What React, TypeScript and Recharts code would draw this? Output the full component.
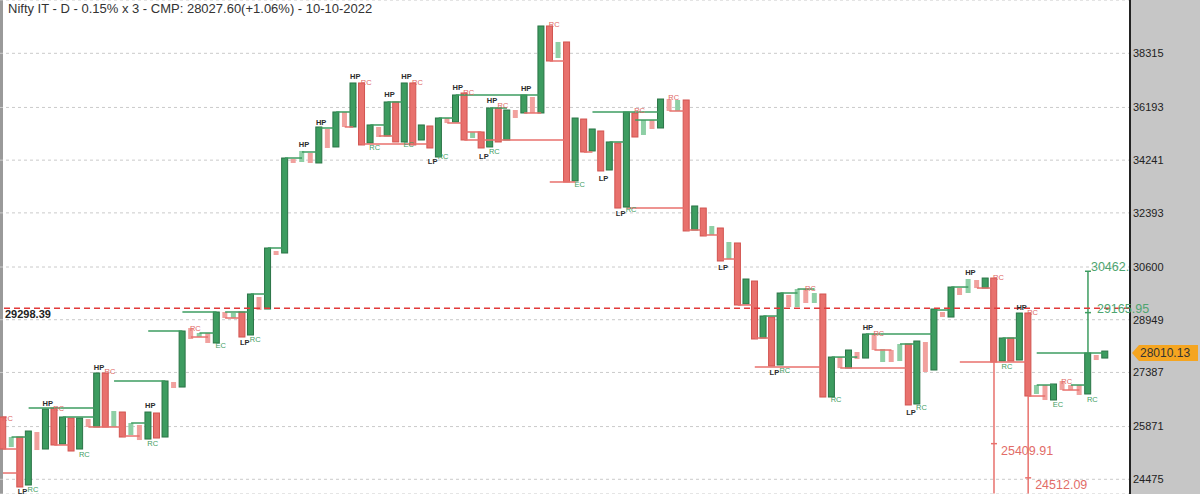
import React from 'react'
import {
  ComposedChart,
  Bar,
  XAxis,
  YAxis,
  CartesianGrid,
  ReferenceLine,
  Scatter
} from 'recharts'

const title = 'Nifty IT - D - 0.15% x 3 - CMP: 28027.60(+1.06%) - 10-10-2022'
const priceTicks = [24475, 25871, 27387, 28949, 30600, 32393, 34241, 36193, 38315]
const breakLevel = 29298.39
const cmpLevel = 28010.13

// G = up bar, R = down bar, g / r = minor up / down bar
const barKind = [
  'R', 'g', 'R', 'G', 'r', 'G', 'R', 'G', 'R', 'G',
  'r', 'G', 'R', 'g', 'R', 'g', 'r', 'G', 'R', 'G',
  'r', 'G', 'r', 'g', 'r', 'G', 'r', 'g', 'R', 'G',
  'r', 'G', 'r', 'G', 'r', 'g', 'r', 'G', 'r', 'G',
  'r', 'G', 'R', 'G', 'r', 'G', 'R', 'G', 'R', 'G',
  'R', 'G', 'r', 'G', 'R', 'g', 'R', 'G', 'R', 'G',
  'r', 'G', 'r', 'G', 'R', 'g', 'R', 'G', 'R', 'G',
  'R', 'G', 'R', 'G', 'R', 'g', 'r', 'G', 'r', 'g',
  'R', 'G', 'R', 'g', 'R', 'g', 'R', 'G', 'R', 'G',
  'R', 'G', 'r', 'g', 'r', 'g', 'R', 'G', 'r', 'G',
  'r', 'G', 'r', 'g', 'r', 'g', 'R', 'G', 'r', 'G',
  'r', 'G', 'r', 'g', 'r', 'G', 'R', 'G', 'R', 'G',
  'R', 'g', 'r', 'G', 'r', 'r', 'r', 'G', 'r', 'G'
]

const barHigh = [
  26132, 25588, 25588, 25750, 25723, 26353, 26381, 26132, 26105, 26105,
  26077, 27371, 27371, 26298, 26270, 25968, 25914, 26270, 26243, 27142,
  27113, 28607, 28697, 28547, 28547, 29185, 29185, 29154, 29185, 29743,
  29649, 31218, 31119, 34318, 34282, 34573, 34500, 35457, 35382, 36021,
  36021, 37137, 37137, 35532, 35457, 36402, 36402, 37137, 37137, 35532,
  35494, 35793, 35793, 36671, 36748, 35271, 35271, 36172, 36172, 36096,
  36096, 36671, 36593, 39432, 39432, 38774, 38774, 35793, 35755, 35382,
  35308, 34902, 34865, 36021, 35983, 35718, 35718, 36516, 36516, 36478,
  36478, 32629, 32559, 31948, 31882, 31416, 31383, 30216, 30152, 29062,
  29031, 29774, 29712, 29899, 29899, 29774, 29743, 27834, 27834, 28041,
  27982, 28517, 28517, 28071, 28041, 28219, 28219, 28308, 28278, 29277,
  29185, 29962, 29930, 30216, 30184, 30247, 30247, 28397, 28397, 29154,
  29154, 27027, 27027, 27056, 27142, 27027, 27027, 27953, 27894, 28010
]

const barLow = [
  25267, 25320, 24277, 24328, 25240, 25267, 25374, 25400, 25214, 25267,
  25859, 25859, 25859, 25859, 25588, 25642, 25507, 25534, 25561, 25588,
  26942, 26970, 28368, 28427, 28249, 28249, 29001, 29001, 28427, 28487,
  29246, 29277, 30989, 31054, 34139, 34174, 34139, 34139, 34682, 34719,
  35457, 35457, 34792, 34865, 35085, 35123, 34902, 34902, 34792, 34975,
  34682, 34355, 35606, 35643, 34975, 35048, 34682, 34719, 34902, 34975,
  35793, 35983, 35983, 35983, 38006, 38126, 33463, 33498, 34536, 34573,
  33853, 33888, 32559, 32593, 35085, 35160, 35382, 35419, 36058, 36058,
  31782, 31815, 31615, 31648, 30794, 30858, 29401, 29432, 28368, 28397,
  27573, 27602, 29338, 29338, 29463, 29463, 26688, 26688, 27514, 27514,
  27776, 27805, 28041, 27689, 27689, 27718, 26465, 26492, 27400, 27457,
  29031, 29031, 29712, 29774, 29930, 29930, 27689, 27718, 27718, 27747,
  26716, 26773, 26604, 26604, 26885, 26885, 26745, 26773, 27747, 27805
]

// [tone, from bar, to bar, price]
const levelLines: [string, number, number, number][] = [
  ['r', 0, 2, 25267], ['r', 0, 2, 24637], ['g', 1, 3, 25588], ['g', 3, 11, 26381],
  ['g', 7, 11, 26132], ['r', 6, 8, 25374], ['r', 10, 14, 25859], ['r', 14, 16, 25615],
  ['g', 15, 17, 25968], ['g', 13, 19, 27142], ['g', 17, 21, 28607], ['r', 22, 24, 28427],
  ['g', 23, 25, 28547], ['g', 21, 25, 29185], ['r', 26, 28, 29001], ['g', 26, 29, 29185],
  ['g', 29, 31, 29743], ['g', 31, 33, 31218], ['g', 33, 35, 34318], ['g', 35, 37, 34536],
  ['g', 37, 39, 35419], ['g', 39, 41, 36021], ['r', 40, 41, 35457], ['r', 42, 50, 34830],
  ['g', 43, 45, 35532], ['r', 44, 46, 35123], ['g', 45, 47, 36402], ['g', 51, 53, 35793],
  ['r', 52, 54, 35606], ['g', 53, 63, 36671], ['r', 54, 66, 34975], ['r', 54, 56, 35271],
  ['g', 57, 59, 36172], ['r', 61, 63, 35983], ['r', 64, 66, 38006], ['r', 64, 67, 33463],
  ['r', 68, 69, 34536], ['g', 71, 73, 34902], ['g', 69, 77, 36021], ['g', 74, 77, 35718],
  ['r', 73, 80, 32559], ['r', 78, 80, 36058], ['r', 80, 82, 31815], ['r', 82, 84, 31648],
  ['r', 84, 86, 30858], ['r', 86, 88, 29401], ['r', 88, 90, 28397], ['g', 89, 91, 29062],
  ['g', 91, 93, 29774], ['r', 88, 96, 27545], ['g', 93, 95, 29899], ['g', 97, 100, 27834],
  ['r', 98, 106, 27514], ['g', 101, 109, 28517], ['r', 102, 104, 28041], ['g', 105, 107, 28219],
  ['g', 109, 111, 29246], ['g', 111, 113, 29962], ['r', 114, 116, 29930], ['r', 112, 120, 27689],
  ['g', 117, 119, 28397], ['r', 120, 122, 26716], ['g', 121, 123, 27027], ['r', 124, 126, 26885],
  ['g', 125, 127, 27027], ['g', 121, 129, 27953]
]

// [bar, price, text, tone]
const marks: [number, number, string, string][] = [
  [0, 26105, 'RC', 'r'], [2, 24174, 'LP', 'k'], [3, 24226, 'RC', 'g'], [5, 26520, 'HP', 'k'],
  [6, 26381, 'RC', 'r'], [9, 25134, 'RC', 'g'], [11, 27543, 'HP', 'k'], [12, 27400, 'RC', 'r'],
  [17, 26437, 'HP', 'k'], [17, 25427, 'RC', 'g'], [22, 28697, 'RC', 'r'], [25, 28160, 'EC', 'g'],
  [28, 28249, 'LP', 'k'], [29, 28338, 'RC', 'g'], [35, 34792, 'HP', 'k'], [37, 35643, 'HP', 'k'],
  [41, 37372, 'HP', 'k'], [42, 37137, 'RC', 'r'], [43, 34682, 'RC', 'g'], [45, 36671, 'HP', 'k'],
  [47, 37372, 'HP', 'k'], [47, 34792, 'EC', 'g'], [48, 37137, 'RC', 'r'], [50, 34210, 'LP', 'k'],
  [51, 34355, 'RC', 'g'], [53, 36942, 'HP', 'k'], [54, 36748, 'RC', 'r'], [56, 34355, 'LP', 'k'],
  [57, 36440, 'HP', 'k'], [57, 34536, 'RC', 'g'], [58, 36249, 'RC', 'r'], [61, 36903, 'HP', 'k'],
  [64, 39474, 'RC', 'r'], [67, 33358, 'EC', 'g'], [70, 33603, 'LP', 'k'], [72, 32355, 'LP', 'k'],
  [73, 32525, 'RC', 'g'], [74, 36096, 'RC', 'r'], [78, 36555, 'RC', 'r'], [84, 30568, 'LP', 'k'],
  [90, 27371, 'LP', 'k'], [91, 27457, 'RC', 'g'], [94, 29930, 'RC', 'r'], [97, 26632, 'RC', 'g'],
  [101, 28727, 'HP', 'k'], [102, 28547, 'RC', 'r'], [106, 26270, 'LP', 'k'], [107, 26409, 'RC', 'g'],
  [113, 30408, 'HP', 'k'], [116, 30279, 'RC', 'r'], [117, 27573, 'RC', 'g'], [119, 29338, 'HP', 'k'],
  [120, 29185, 'RC', 'r'], [123, 26492, 'EC', 'g'], [124, 27113, 'RC', 'r'], [127, 26632, 'RC', 'g']
]

// [bar, from price, to price, tone]
const wicks: [number, number, number, string][] = [
  [116, 27689, 24110, 'r'],
  [120, 26716, 24110, 'r'],
  [127, 27953, 30462.76, 'g']
]

// [bar, price, tone]
const wickTicks: [number, number, string][] = [
  [116, 25409.91, 'r'],
  [120, 24512.09, 'r'],
  [127, 30462.76, 'g'],
  [127, 29165.95, 'g']
]

const FONT = '"Liberation Sans", Arial, sans-serif'
const GREEN = '#3d9c60'
const GREEN_EDGE = '#2a7446'
const RED = '#e8716d'
const RED_EDGE = '#d25450'
const PALE_GREEN = '#8ecfa5'
const PALE_RED = '#f1a19e'

const chartData = barKind.map((kind, i) => ({
  i,
  kind,
  range: [barLow[i], barHigh[i]]
}))

const markData = marks.map(([i, v, text, tone]) => ({ i, v, text, tone }))
const tickData = wickTicks.map(([i, v, tone]) => ({
  i,
  v,
  tone,
  text: v.toFixed(2)
}))

const BarShape = (props: any) => {
  const { x, y, width, height, payload } = props
  if (!payload) return null
  const k = payload.kind
  const minor = k === 'g' || k === 'r'
  const w = minor ? 5 : 6
  const cx = x + width / 2
  let fill = GREEN
  let stroke = GREEN_EDGE
  if (k === 'R') { fill = RED; stroke = RED_EDGE }
  if (k === 'g') { fill = PALE_GREEN; stroke = 'none' }
  if (k === 'r') { fill = PALE_RED; stroke = 'none' }
  return (
    <rect
      x={cx - w / 2}
      y={y}
      width={w}
      height={Math.max(height, 1.5)}
      fill={fill}
      stroke={stroke}
      strokeWidth={minor ? 0 : 1}
    />
  )
}

const MarkShape = (props: any) => {
  const { cx, cy, payload } = props
  if (!payload) return null
  const t = payload.text
  let x = cx - 1
  let anchor: 'start' | 'middle' = 'start'
  let fill = payload.tone === 'g' ? '#3f9d62' : '#e06763'
  let weight: any = 'normal'
  if (t === 'HP') { x = cx + 2; anchor = 'middle'; fill = '#2b2b2b'; weight = 'bold' }
  if (t === 'LP') { x = cx + 2.5; anchor = 'middle'; fill = '#2b2b2b'; weight = 'bold' }
  return (
    <text
      x={x}
      y={cy}
      textAnchor={anchor}
      dominantBaseline="central"
      fontSize={7.5}
      fontWeight={weight}
      fontFamily={FONT}
      fill={fill}
    >
      {t}
    </text>
  )
}

// the top target text is cut at the edge of the plot, the others run on
const TickText = (props: any) => {
  const { cx, cy, payload } = props
  if (!payload) return null
  const up = payload.tone === 'g'
  const top = up && payload.v > 30000
  return (
    <g>
      {top && (
        <defs>
          <clipPath id="plot-edge">
            <rect x={0} y={0} width={1129} height={494} />
          </clipPath>
        </defs>
      )}
      <text
        x={cx + (up ? (top ? 3 : 9) : 7)}
        y={cy + (up ? -4 : 7)}
        dominantBaseline="central"
        fontSize={12.5}
        fontFamily={FONT}
        fill={up ? '#4ea570' : '#e26c68'}
        clipPath={top ? 'url(#plot-edge)' : undefined}
      >
        {payload.text}
      </text>
    </g>
  )
}

const BreakLabel = ({ viewBox }: any) => (
  <text
    x={viewBox.x + 5}
    y={viewBox.y + 9.5}
    fontSize={11}
    fontWeight="bold"
    fontFamily={FONT}
    fill="#222"
  >
    {breakLevel.toFixed(2)}
  </text>
)

const CmpTag = ({ viewBox }: any) => {
  const x = viewBox.x + viewBox.width + 2
  const y = viewBox.y + 2
  return (
    <g>
      <path
        d={`M${x} ${y} L${x + 7} ${y - 8} H${x + 66} V${y + 8} H${x + 7} Z`}
        fill="#f5a520"
      />
      <text
        x={x + 8}
        y={y}
        dominantBaseline="central"
        fontSize={12}
        fontFamily={FONT}
        fill="#333"
      >
        {cmpLevel.toFixed(2)}
      </text>
    </g>
  )
}

export default function App() {
  return (
    <div
      style={{
        position: 'absolute',
        left: 0,
        top: 0,
        width: 1200,
        height: 494,
        background: '#c6c6c6',
        overflow: 'hidden',
        fontFamily: FONT
      }}
    >
      <div style={{ position: 'absolute', left: 0, top: 0, width: 1130, height: 494, background: '#fff' }} />
      <div style={{ position: 'absolute', left: 0, top: 0, width: 3, height: 494, background: '#9a9a9a' }} />
      <div style={{ position: 'absolute', left: 0, top: 0 }}>
        <ComposedChart
          width={1200}
          height={494}
          data={chartData}
          margin={{ top: 0, right: 0, bottom: 0, left: 0 }}
        >
          <CartesianGrid vertical={false} strokeDasharray="3 3" stroke="#cacaca" />
          <XAxis
            dataKey="i"
            type="number"
            domain={[-0.35, 131.92]}
            hide
          />
          <YAxis
            orientation="right"
            scale="log"
            domain={[24099, 40525]}
            ticks={priceTicks}
            width={70}
            tickSize={0}
            tickMargin={3}
            tickLine={false}
            axisLine={{ stroke: '#222', strokeWidth: 2 }}
            tick={{ fontSize: 11, fill: '#222', fontFamily: FONT }}
            interval={0}
          />
          {levelLines.map(([tone, a, b, v], k) => (
            <ReferenceLine
              key={`lv-${k}`}
              segment={[{ x: a, y: v }, { x: b, y: v }]}
              stroke={tone === 'g' ? GREEN : RED}
              strokeWidth={1.5}
            />
          ))}
          {wicks.map(([i, from, to, tone], k) => (
            <ReferenceLine
              key={`wk-${k}`}
              segment={[{ x: i, y: from }, { x: i, y: to }]}
              stroke={tone === 'g' ? GREEN : RED}
              strokeWidth={1.5}
            />
          ))}
          {wickTicks.map(([i, v, tone], k) => (
            <ReferenceLine
              key={`wt-${k}`}
              segment={[{ x: i - 0.35, y: v }, { x: i + 0.35, y: v }]}
              stroke={tone === 'g' ? GREEN : RED}
              strokeWidth={1.5}
            />
          ))}
          <ReferenceLine
            y={breakLevel}
            stroke="#e23a3a"
            strokeDasharray="6 4"
            strokeWidth={1.5}
            label={<BreakLabel />}
          />
          <ReferenceLine y={cmpLevel} stroke="none" label={<CmpTag />} />
          <Bar
            dataKey="range"
            barSize={6}
            shape={<BarShape />}
            isAnimationActive={false}
          />
          <Scatter
            data={markData}
            dataKey="v"
            shape={<MarkShape />}
            isAnimationActive={false}
          />
          <Scatter
            data={tickData}
            dataKey="v"
            shape={<TickText />}
            isAnimationActive={false}
          />
        </ComposedChart>
      </div>
      <div
        style={{
          position: 'absolute',
          left: 8,
          top: 1,
          fontSize: 13,
          color: '#333',
          whiteSpace: 'nowrap'
        }}
      >
        {title}
      </div>
    </div>
  )
}
